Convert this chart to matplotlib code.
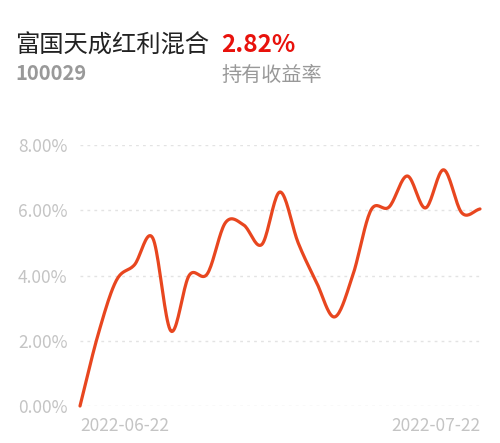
import numpy as np
import matplotlib
matplotlib.use('Agg')
import matplotlib.pyplot as plt

plt.rcParams['font.family'] = ['Noto Sans CJK SC', 'DejaVu Sans']

# data (holding return, %)
dates = ['2022-06-22', '2022-06-23', '2022-06-24', '2022-06-27', '2022-06-28',
         '2022-06-29', '2022-06-30', '2022-07-01', '2022-07-04', '2022-07-05',
         '2022-07-06', '2022-07-07', '2022-07-08', '2022-07-11', '2022-07-12',
         '2022-07-13', '2022-07-14', '2022-07-15', '2022-07-18', '2022-07-19',
         '2022-07-20', '2022-07-21', '2022-07-22']
returns = [0.0, 2.2, 3.85, 4.33, 5.15, 2.3, 4.0, 4.05, 5.62, 5.55, 4.95, 6.56,
           5.0, 3.8, 2.73, 4.0, 6.0, 6.1, 7.05, 6.07, 7.24, 5.92, 6.04]
yticks = [0, 2, 4, 6, 8]
fund_name = '富国天成红利混合'
fund_code = '100029'
fund_return = '2.82%'


# smooth line through the points (catmull-rom)
def smooth(x, y, n=20):
    x = np.asarray(x, float)
    y = np.asarray(y, float)
    px = np.concatenate([[2 * x[0] - x[1]], x, [2 * x[-1] - x[-2]]])
    py = np.concatenate([[2 * y[0] - y[1]], y, [2 * y[-1] - y[-2]]])
    xs, ys = [], []
    t = np.linspace(0, 1, n, endpoint=False)
    for i in range(1, len(px) - 2):
        for p, out in ((px, xs), (py, ys)):
            p0, p1, p2, p3 = p[i - 1], p[i], p[i + 1], p[i + 2]
            out.extend(0.5 * (2 * p1 + (-p0 + p2) * t
                              + (2 * p0 - 5 * p1 + 4 * p2 - p3) * t ** 2
                              + (-p0 + 3 * p1 - 3 * p2 + p3) * t ** 3))
    xs.append(x[-1])
    ys.append(y[-1])
    return np.array(xs), np.array(ys)


x = np.arange(len(dates))
sx, sy = smooth(x, returns)

fig = plt.figure(figsize=(5, 4.43), dpi=100)
ax = fig.add_axes([0.16, 0.0835, 0.8, 0.5892])

ax.plot(sx, sy, color='#e8461f', lw=2.3, clip_on=False, solid_capstyle='round')
ax.set_xlim(0, len(dates) - 1)
ax.set_ylim(0, 8)
ax.set_yticks(yticks)
ax.set_yticklabels(['%.2f%%' % v for v in yticks])
for v in yticks:
    ax.axhline(v, color='#e3e3e3', lw=1, ls=(0, (2, 3)), zorder=0)

ax.set_xticks([0, len(dates) - 1])
ax.set_xticklabels([dates[0], dates[-1]])
xl = ax.get_xticklabels()
xl[0].set_ha('left')
xl[1].set_ha('right')

ax.tick_params(length=0, labelsize=12.5, labelcolor='#c4c4c4')
ax.tick_params(axis='y', pad=9)
ax.tick_params(axis='x', pad=8)
for s in ax.spines.values():
    s.set_visible(False)

fig.text(0.03, 0.898, fund_name, fontsize=17.5, color='#222222', va='center')
fig.text(0.442, 0.898, fund_return, fontsize=17.5, color='#e8120c',
         fontweight='bold', va='center')
fig.text(0.03, 0.834, fund_code, fontsize=14.5, color='#999999',
         fontweight='bold', va='center')
fig.text(0.442, 0.83, '持有收益率', fontsize=14.5, color='#999999', va='center')

fig.savefig('out.png', dpi=100, facecolor='white')
